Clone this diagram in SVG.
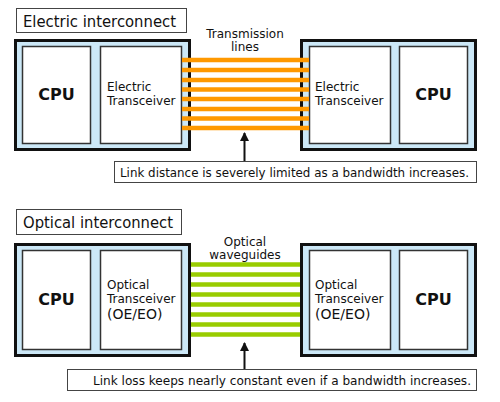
<svg xmlns="http://www.w3.org/2000/svg" width="500" height="402" viewBox="0 0 500 402">
<style>
text{font-family:"DejaVu Sans","Verdana",sans-serif;fill:#111}
.title{font-size:16px}
.cpu{font-size:16px;font-weight:bold}
.t{font-size:12px}
.oe{font-size:14px}
.lbl{font-size:12.5px}
.tbox{fill:#fff;stroke:#444;stroke-width:1}
.outer{fill:#cce8f7;stroke:#111;stroke-width:3}
.inner{fill:#fff;stroke:#333;stroke-width:1.5}
.or{stroke:#ff9900;stroke-width:4.5}
.gr{stroke:#99cc00;stroke-width:4.5}
.arr{stroke:#111;stroke-width:2;fill:none}
</style>
<defs>
<marker id="ah" markerWidth="9" markerHeight="9" refX="8" refY="4.5" orient="auto" markerUnits="userSpaceOnUse">
<path d="M0,0 L9,4.5 L0,9 Z" fill="#111"/>
</marker>
</defs>

<g id="title-electric">
<rect class="tbox" x="16.5" y="8.5" width="170" height="24"/>
<text class="title" x="23" y="27" textLength="153" lengthAdjust="spacingAndGlyphs">Electric interconnect</text>
</g>

<g id="left-electric">
<rect class="outer" x="15.5" y="40.5" width="174" height="109"/>
<g id="cpu-e-left">
<rect class="inner" x="22.5" y="46.5" width="68" height="97"/>
<text class="cpu" x="56.5" y="100" text-anchor="middle">CPU</text>
</g>
<g id="trx-e-left">
<rect class="inner" x="100.5" y="46.5" width="81" height="97"/>
<text class="t" x="107" y="91">Electric</text>
<text class="t" x="107" y="105">Transceiver</text>
</g>
</g>

<g id="right-electric">
<rect class="outer" x="301.5" y="40.5" width="174" height="109"/>
<g id="trx-e-right">
<rect class="inner" x="309.5" y="46.5" width="81" height="97"/>
<text class="t" x="315" y="91">Electric</text>
<text class="t" x="315" y="105">Transceiver</text>
</g>
<g id="cpu-e-right">
<rect class="inner" x="399.5" y="46.5" width="68" height="97"/>
<text class="cpu" x="433.5" y="100" text-anchor="middle">CPU</text>
</g>
</g>

<g id="connectors">
<g id="transmission-lines">
<line class="or" x1="182" y1="60" x2="309" y2="60"/>
<line class="or" x1="182" y1="70" x2="309" y2="70"/>
<line class="or" x1="182" y1="80" x2="309" y2="80"/>
<line class="or" x1="182" y1="89.5" x2="309" y2="89.5"/>
<line class="or" x1="182" y1="99" x2="309" y2="99"/>
<line class="or" x1="182" y1="109" x2="309" y2="109"/>
<line class="or" x1="182" y1="118.5" x2="309" y2="118.5"/>
<line class="or" x1="182" y1="128" x2="309" y2="128"/>
</g>
<g id="waveguides">
<line class="gr" x1="182" y1="264.5" x2="309" y2="264.5"/>
<line class="gr" x1="182" y1="274.5" x2="309" y2="274.5"/>
<line class="gr" x1="182" y1="284.5" x2="309" y2="284.5"/>
<line class="gr" x1="182" y1="294.5" x2="309" y2="294.5"/>
<line class="gr" x1="182" y1="304.5" x2="309" y2="304.5"/>
<line class="gr" x1="182" y1="314.5" x2="309" y2="314.5"/>
<line class="gr" x1="182" y1="324.5" x2="309" y2="324.5"/>
<line class="gr" x1="182" y1="334.5" x2="309" y2="334.5"/>
</g>
<line class="arr" x1="244.5" y1="161" x2="244.5" y2="133" marker-end="url(#ah)"/>
<line class="arr" x1="244.5" y1="369" x2="244.5" y2="343" marker-end="url(#ah)"/>
</g>

<g id="label-transmission">
<text class="t" x="245" y="38" text-anchor="middle">Transmission</text>
<text class="t" x="245" y="51" text-anchor="middle">lines</text>
</g>

<g id="note-electric">
<rect class="tbox" x="114.5" y="161.5" width="362" height="21"/>
<text class="lbl" x="120" y="177" textLength="349" lengthAdjust="spacingAndGlyphs">Link distance is severely limited as a bandwidth increases.</text>
</g>

<g id="title-optical">
<rect class="tbox" x="16.5" y="209.5" width="165" height="25"/>
<text class="title" x="23" y="228" textLength="150" lengthAdjust="spacingAndGlyphs">Optical interconnect</text>
</g>

<g id="left-optical">
<rect class="outer" x="15.5" y="244.5" width="174" height="111"/>
<g id="cpu-o-left">
<rect class="inner" x="22.5" y="250.5" width="68" height="99"/>
<text class="cpu" x="56.5" y="305" text-anchor="middle">CPU</text>
</g>
<g id="trx-o-left">
<rect class="inner" x="100.5" y="250.5" width="81" height="99"/>
<text class="t" x="107" y="289">Optical</text>
<text class="t" x="107" y="303">Transceiver</text>
<text class="oe" x="107" y="319">(OE/EO)</text>
</g>
</g>

<g id="right-optical">
<rect class="outer" x="301.5" y="244.5" width="174" height="111"/>
<g id="trx-o-right">
<rect class="inner" x="309.5" y="250.5" width="81" height="99"/>
<text class="t" x="315" y="289">Optical</text>
<text class="t" x="315" y="303">Transceiver</text>
<text class="oe" x="315" y="319">(OE/EO)</text>
</g>
<g id="cpu-o-right">
<rect class="inner" x="399.5" y="250.5" width="68" height="99"/>
<text class="cpu" x="433.5" y="305" text-anchor="middle">CPU</text>
</g>
</g>

<g id="label-waveguides">
<text class="t" x="245" y="246" text-anchor="middle">Optical</text>
<text class="t" x="245" y="259" text-anchor="middle">waveguides</text>
</g>

<g id="note-optical">
<rect class="tbox" x="67.5" y="369.5" width="409" height="21"/>
<text class="lbl" x="93" y="385" textLength="378" lengthAdjust="spacingAndGlyphs">Link loss keeps nearly constant even if a bandwidth increases.</text>
</g>
</svg>
